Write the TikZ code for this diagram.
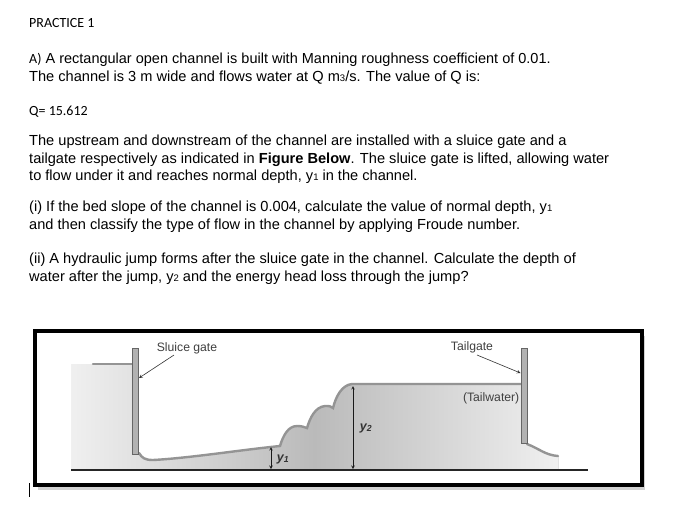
\documentclass[tikz,border=0pt]{standalone}
\usepackage{fontspec}
\setmainfont{Liberation Sans}
\newfontfamily\calibrifont{Carlito}
\usepackage{tikz}
\usetikzlibrary{arrows, shadows}
\tikzstyle{arrow} = [semithick,-stealth,black!80]
\tikzstyle{dimarrow} = [semithick,stealth-stealth,black!90]
\tikzstyle{para} = [anchor=north west, inner sep=0pt, font=\fontsize{14.6}{17.5}\selectfont]
\tikzstyle{note} = [anchor=west, inner sep=0pt, font=\calibrifont\fontsize{14}{16}\selectfont]
\tikzstyle{label} = [inner sep=1pt, text=black!75, font=\fontsize{12.2}{14}\selectfont]
\tikzstyle{dimlabel} = [inner sep=0pt, font=\fontsize{12.5}{14}\selectfont\bfseries\itshape, text=black!80]
\tikzstyle{gate} = [rectangle, draw=black!60, fill=black!30, line width=0.7pt, inner sep=0pt]
\tikzstyle{surface} = [line width=2.4pt, black!42, line cap=round]
\tikzset{every node/.style={align=left}}
\newcommand{\dig}[1]{{\fontsize{9.5}{10}\selectfont #1}}
\newcommand{\jumpsurface}{(139,453) .. controls (142,458) and (145,460) .. (153,460)
    .. controls (190,458) and (240,450) .. (280,446)
    .. controls (283,436) and (288,426) .. (297,426)
    .. controls (302,426) and (304,427) .. (307,428)
    .. controls (310,418) and (315,407) .. (325,406)
    .. controls (329,406) and (331,406) .. (333,408)
    .. controls (336,396) and (342,385) .. (352,384) -- (522,384)}
\newcommand{\tailsurface}{(527,444) .. controls (540,449) and (545,455) .. (558,456)}
\begin{document}
\begin{tikzpicture}[x=1pt,y=-1pt]
    \useasboundingbox (0,0) rectangle (683,515);

    % text
    \node (title) [note] at (29,23) {PRACTICE 1};
    \node (parta) [para] at (29,53) {{\calibrifont\fontsize{14}{16}\selectfont A)} {\fontsize{14.5}{17.5}\selectfont A rectangular open channel is built with Manning roughness coefficient of 0.01.}\\The channel is 3 m wide and flows water at Q m\dig{3}/s. The value of Q is:};
    \node (answer) [note] at (29,112) {Q= 15.612};
    \node (intro) [para] at (29,135) {The upstream and downstream of the channel are installed with a sluice gate and a\\tailgate respectively as indicated in \textbf{Figure Below}. The sluice gate is lifted, allowing water\\to flow under it and reaches normal depth, y\dig{1} in the channel.};
    \node (parti) [para] at (29,201) {(i) If the bed slope of the channel is 0.004, calculate the value of normal depth, y\dig{1}\\and then classify the type of flow in the channel by applying Froude number.};
    \node (partii) [para] at (29,253) {(ii) A hydraulic jump forms after the sluice gate in the channel. Calculate the depth of\\water after the jump, y\dig{2} and the energy head loss through the jump?};

    % frame
    \node (frame) [rectangle, draw=black, fill=white, line width=4pt, minimum width=607pt, minimum height=154pt, drop shadow={shadow xshift=3pt, shadow yshift=-4.5pt, fill=black!35}] at (338.5,408) {};
    \draw [black, line width=0.8pt] (29.5,483) -- (29.5,497);

    % water
    \fill [left color=black!6, right color=black!6, middle color=black!27]
        (71,364) -- (133,364) -- (139,453) -- \jumpsurface -- (527,444)
        .. controls (540,449) and (545,455) .. (558,456) -- (558,469) -- (71,469) -- cycle;
    \draw [surface] (93,364) -- (133,364);
    \draw [surface] \jumpsurface;
    \draw [surface] \tailsurface;
    \draw [black!85, line width=1.6pt] (71,470) -- (588,470);

    % gates
    \node (sluice) [gate, minimum width=6pt, minimum height=106pt] at (135.5,401) {};
    \node (tail) [gate, minimum width=5.5pt, minimum height=95pt] at (524.5,395.5) {};

    % labels
    \node (sluicelabel) [label] at (187,348) {Sluice gate};
    \node (taillabel) [label] at (472,347) {Tailgate};
    \node (tailwater) [label, anchor=east] at (520.5,398) {(Tailwater)};
    \node (yone) [dimlabel] at (283,459) {y\textsubscript{1}};
    \node (ytwo) [dimlabel] at (366,428) {y\textsubscript{2}};
    \coordinate (sluicestart) at (174,355);
    \coordinate (sluicetip) at (139,378);
    \coordinate (tailstart) at (477,355);
    \coordinate (tailtip) at (520.5,373);
    \coordinate (yonetop) at (271,447);
    \coordinate (yonebot) at (271,469);
    \coordinate (ytwotop) at (353,386);
    \coordinate (ytwobot) at (353,469);

    \draw [arrow] (sluicestart) -- (sluicetip);
    \draw [arrow] (tailstart) -- (tailtip);
    \draw [dimarrow] (yonetop) -- (yonebot);
    \draw [dimarrow] (ytwotop) -- (ytwobot);
\end{tikzpicture}
\end{document}
